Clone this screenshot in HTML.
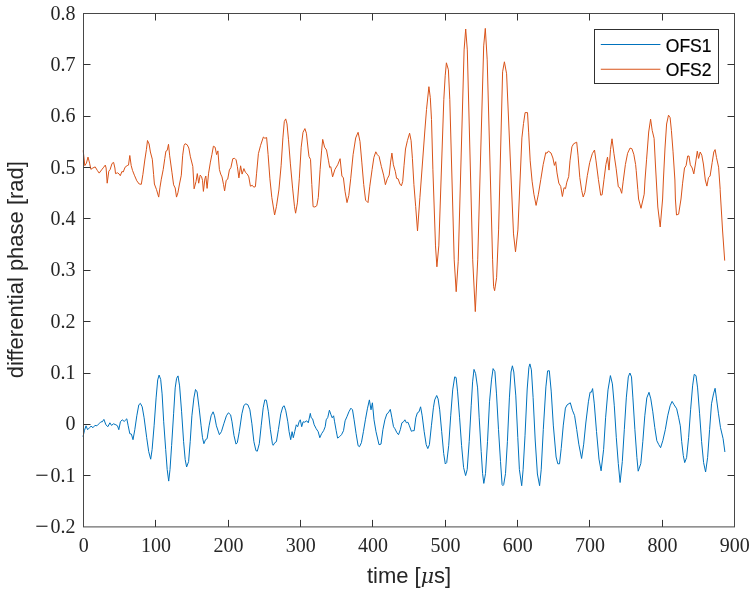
<!DOCTYPE html>
<html><head><meta charset="utf-8"><title>differential phase</title>
<style>
html,body{margin:0;padding:0;background:#fff;}
body{width:753px;height:594px;overflow:hidden;}
svg{display:block;}
.tk{font-family:"Liberation Serif",serif;font-size:20px;fill:#262626;}
.lb{font-family:"Liberation Sans",sans-serif;font-size:22px;fill:#262626;}
.lg{font-family:"Liberation Sans",sans-serif;font-size:17.5px;fill:#000;stroke:#000;stroke-width:0.2px;}
</style></head><body>
<svg width="753" height="594" viewBox="0 0 753 594">
<rect width="753" height="594" fill="#fff"/>
<path d="M83.0,436.7 L84.4,430.7 L86.0,425.8 L87.6,429.7 L89.6,427.7 L91.0,426.1 L93.0,427.7 L94.9,425.4 L96.9,425.8 L98.9,423.8 L100.9,421.8 L102.3,421.8 L103.9,419.4 L105.9,424.8 L107.9,426.7 L109.9,422.8 L111.5,425.4 L113.5,423.8 L115.9,424.8 L117.5,425.8 L118.8,429.7 L120.4,421.8 L122.2,419.8 L124.2,421.4 L126.8,418.8 L128.2,425.8 L129.8,433.7 L131.4,434.1 L133.0,439.7 L134.8,429.7 L136.8,415.8 L138.8,404.8 L140.4,403.4 L142.2,406.8 L144.1,417.8 L146.7,437.7 L148.7,451.6 L150.7,459.2 L152.1,449.6 L154.1,425.8 L156.1,397.9 L157.7,379.9 L159.1,375.1 L160.7,379.5 L162.1,393.9 L163.7,421.8 L165.7,449.6 L167.2,469.6 L168.7,481.1 L170.0,469.6 L171.6,445.7 L173.6,413.8 L175.2,387.9 L176.6,378.3 L178.0,375.9 L179.6,385.9 L181.6,411.8 L183.6,441.7 L185.2,459.6 L186.6,467.0 L188.6,461.6 L190.2,441.7 L191.9,415.8 L193.9,397.9 L195.5,389.5 L197.1,391.9 L199.1,407.8 L201.1,425.8 L202.5,437.7 L203.9,443.7 L205.5,439.7 L207.1,438.7 L209.1,425.8 L211.1,415.8 L213.1,411.8 L214.5,415.8 L216.4,425.8 L219.4,434.7 L221.4,431.7 L223.8,423.8 L226.4,415.8 L228.4,412.8 L230.6,414.8 L232.0,421.8 L234.0,435.7 L236.0,444.1 L237.3,442.7 L239.3,431.7 L241.9,413.8 L243.9,405.4 L245.9,403.8 L247.9,404.8 L249.9,409.8 L251.9,423.8 L253.9,441.7 L255.9,450.6 L257.3,451.2 L259.3,443.7 L261.2,425.8 L263.2,407.8 L264.8,399.9 L266.4,400.2 L268.4,411.8 L270.4,429.7 L272.4,443.7 L273.2,445.3 L274.8,442.7 L276.4,441.7 L278.4,429.7 L280.8,413.8 L282.8,406.8 L284.2,405.8 L285.8,410.8 L287.8,421.8 L289.1,431.7 L290.7,439.7 L292.1,431.7 L293.3,437.7 L294.7,431.7 L296.3,424.8 L297.7,426.7 L299.1,421.8 L300.3,419.8 L301.7,426.7 L303.1,421.8 L304.7,422.2 L306.7,420.8 L308.3,422.8 L310.3,413.4 L311.2,417.8 L312.6,418.8 L314.2,424.8 L316.2,428.7 L318.2,431.7 L319.8,437.7 L321.6,433.7 L323.6,430.7 L325.2,426.7 L326.2,419.8 L327.8,417.4 L329.4,410.2 L331.0,414.8 L332.2,417.8 L333.6,415.8 L334.6,421.8 L336.2,430.7 L337.6,438.1 L339.5,436.7 L341.5,434.7 L343.5,430.7 L345.1,420.8 L346.9,416.8 L348.9,411.8 L350.9,408.2 L352.5,409.8 L354.1,419.8 L356.1,433.7 L358.1,445.7 L359.5,446.7 L361.4,442.7 L363.4,431.7 L365.4,419.8 L367.4,408.8 L369.4,399.9 L371.0,409.8 L372.4,402.8 L374.0,419.8 L376.0,431.7 L379.0,444.7 L381.0,444.1 L382.9,429.7 L384.9,419.8 L386.9,413.8 L388.3,412.8 L390.3,409.4 L391.9,417.8 L393.5,426.7 L394.9,428.7 L396.9,432.7 L398.5,434.7 L400.3,429.7 L401.9,422.8 L403.5,421.8 L404.9,419.8 L406.4,422.8 L407.9,422.2 L409.4,425.8 L411.4,431.3 L412.8,430.7 L414.2,430.7 L415.8,417.8 L417.4,412.8 L419.0,411.8 L420.6,406.8 L422.2,415.8 L424.2,431.7 L426.2,444.7 L427.8,448.6 L429.4,444.7 L431.4,425.8 L433.4,407.8 L434.7,399.9 L436.7,395.5 L438.1,398.9 L439.7,409.8 L441.7,431.7 L443.7,453.6 L445.3,464.0 L446.7,462.6 L448.7,445.7 L450.7,415.8 L452.7,389.9 L454.7,376.9 L456.1,377.5 L457.6,391.9 L459.6,417.8 L461.6,445.7 L463.6,467.6 L465.6,475.6 L467.2,469.6 L469.2,441.7 L471.2,405.8 L472.6,381.9 L474.0,369.4 L475.6,373.6 L477.6,387.9 L479.2,417.8 L481.2,451.6 L482.6,473.6 L483.8,483.4 L485.5,473.6 L487.5,441.7 L489.5,401.8 L491.5,379.9 L493.1,368.6 L494.9,371.6 L496.5,393.9 L498.5,429.7 L500.5,461.6 L502.1,484.6 L502.9,485.6 L503.7,484.6 L505.5,473.6 L507.4,441.7 L509.4,397.9 L511.0,372.0 L512.4,365.8 L513.8,372.0 L515.8,395.9 L517.8,437.7 L519.4,469.6 L521.7,485.7 L523.1,469.8 L525.0,435.8 L527.2,389.0 L528.9,367.3 L529.9,363.9 L531.4,369.9 L533.1,397.5 L535.2,440.0 L537.4,474.0 L539.6,485.7 L541.2,469.8 L543.3,429.4 L545.9,386.9 L547.6,370.9 L549.3,370.7 L551.2,391.1 L553.3,425.1 L556.1,457.0 L557.8,463.8 L559.5,463.8 L561.2,448.5 L563.3,425.1 L565.4,408.1 L567.1,404.9 L570.3,402.8 L572.4,410.2 L574.6,415.6 L576.7,429.4 L578.8,444.2 L581.6,458.5 L583.7,444.2 L585.8,423.0 L588.4,401.8 L590.1,392.2 L591.4,392.2 L592.6,388.6 L594.3,403.9 L596.5,431.5 L599.0,459.1 L601.1,470.8 L603.6,449.6 L605.6,417.8 L608.0,389.9 L610.4,375.6 L612.4,383.9 L614.3,405.8 L616.3,437.7 L618.3,463.6 L620.1,482.5 L622.3,461.6 L624.3,429.7 L626.3,397.9 L628.3,376.9 L629.9,373.0 L631.5,376.9 L632.9,397.9 L634.9,429.7 L636.9,457.6 L638.2,471.2 L640.8,463.6 L642.8,441.7 L644.8,415.8 L646.8,397.9 L649.0,392.3 L650.8,398.9 L652.8,411.8 L654.8,427.7 L656.8,440.7 L658.8,444.7 L660.6,447.7 L662.8,440.7 L665.3,429.7 L667.7,415.8 L670.1,405.8 L672.1,401.4 L674.1,404.8 L676.7,408.8 L678.7,417.8 L680.3,425.8 L681.7,441.7 L683.3,455.6 L684.7,462.6 L686.6,457.6 L688.6,437.7 L690.6,409.8 L692.6,385.9 L694.2,374.4 L696.0,375.6 L697.6,387.9 L699.6,413.8 L701.6,441.7 L703.6,462.6 L705.6,472.0 L707.6,457.6 L709.6,429.7 L711.5,403.8 L713.5,393.9 L715.1,388.3 L716.5,398.9 L718.5,413.8 L720.5,427.7 L723.1,438.7 L724.9,452.0" fill="none" stroke="#0072BD" stroke-width="1" stroke-linejoin="round"/>
<path d="M83.2,150.4 L84.8,165.6 L86.4,163.2 L88.0,157.1 L89.6,163.2 L90.9,169.3 L92.8,168.0 L95.2,166.9 L97.3,170.4 L99.2,173.1 L101.6,169.9 L103.7,167.2 L105.3,165.1 L106.1,168.0 L107.2,183.2 L108.8,171.2 L110.1,169.6 L112.0,163.5 L113.6,162.4 L114.9,168.0 L115.5,173.6 L117.6,172.8 L119.2,174.1 L120.3,175.7 L121.9,171.5 L123.2,172.0 L125.1,167.2 L127.2,165.6 L128.5,165.1 L129.8,155.5 L131.2,165.6 L132.5,170.4 L134.4,175.2 L136.8,180.8 L139.2,184.0 L141.3,184.3 L142.9,174.4 L144.8,160.0 L146.4,149.6 L147.5,140.5 L149.1,144.0 L150.4,152.0 L152.3,159.2 L153.6,174.4 L154.4,184.0 L156.5,189.6 L158.7,197.1 L160.0,187.2 L161.3,179.2 L163.2,169.6 L164.8,158.4 L165.9,151.2 L167.2,150.4 L168.5,144.3 L169.6,155.2 L172.0,172.8 L173.6,184.8 L175.2,188.0 L176.5,197.1 L177.9,192.8 L179.5,184.0 L181.3,175.2 L182.7,155.2 L184.0,145.6 L185.1,143.7 L187.2,144.8 L188.8,148.0 L190.4,156.8 L192.8,166.4 L194.1,188.8 L196.0,181.6 L197.3,173.6 L198.7,183.2 L200.2,175.1 L201.5,176.6 L202.5,180.3 L203.4,191.4 L204.9,178.8 L205.8,176.0 L207.1,188.4 L208.6,173.2 L210.4,162.1 L211.9,154.6 L213.4,146.2 L215.1,147.2 L216.6,154.6 L217.9,150.9 L219.4,169.5 L220.7,174.1 L222.0,176.9 L223.5,184.4 L224.6,190.9 L226.2,180.3 L227.7,179.2 L229.4,169.9 L230.9,167.6 L232.8,158.7 L234.6,158.3 L236.1,159.8 L237.4,166.7 L238.9,177.9 L240.6,165.8 L242.1,174.1 L243.9,168.6 L245.4,172.3 L247.3,174.1 L248.8,176.9 L250.4,186.2 L252.3,185.3 L253.8,187.2 L255.4,186.6 L256.6,173.2 L258.4,153.7 L260.6,145.3 L263.4,137.0 L264.9,138.3 L266.6,137.5 L268.1,154.6 L269.9,178.8 L271.8,197.4 L274.6,215.0 L276.4,206.7 L278.9,189.9 L281.1,165.8 L282.9,137.9 L284.3,121.5 L285.7,118.9 L287.0,123.9 L288.5,139.8 L290.4,163.9 L292.6,188.1 L294.5,206.7 L295.6,213.2 L297.4,202.9 L299.3,178.8 L301.2,147.2 L303.0,132.3 L304.9,128.6 L306.4,133.2 L308.1,149.0 L309.0,156.5 L310.5,159.3 L311.8,184.4 L313.1,206.7 L314.9,207.0 L316.8,205.7 L318.3,197.4 L320.1,169.5 L321.6,150.9 L322.7,139.4 L324.6,147.2 L326.5,150.0 L328.4,160.2 L329.7,167.6 L330.8,166.7 L332.6,176.9 L334.9,169.5 L337.7,164.8 L340.1,158.7 L341.9,176.0 L343.4,177.9 L345.1,191.8 L347.0,202.6 L348.8,195.5 L350.7,178.8 L353.1,154.6 L355.7,137.9 L358.1,132.3 L360.0,141.6 L361.8,162.1 L363.7,184.4 L365.6,200.2 L368.0,202.6 L369.8,186.2 L372.1,169.5 L373.9,157.4 L375.8,151.8 L377.3,154.6 L379.1,156.5 L381.4,166.7 L383.6,175.1 L385.4,184.7 L387.3,178.8 L389.2,175.1 L390.6,162.1 L391.9,153.1 L393.4,164.8 L395.3,171.3 L396.6,178.4 L398.1,178.8 L399.9,184.0 L401.4,185.8 L402.7,181.6 L404.0,165.8 L405.5,149.0 L407.4,140.7 L409.6,133.2 L411.1,140.7 L412.4,158.3 L413.9,184.4 L415.7,206.7 L417.5,230.9 L419.9,197.7 L424.9,130.0 L426.5,109.6 L428.9,86.7 L430.3,97.7 L431.5,119.6 L432.9,169.8 L435.5,245.9 L436.9,266.8 L438.8,245.9 L443.8,99.7 L445.2,75.8 L446.4,62.8 L448.4,69.8 L449.8,99.7 L454.2,259.8 L456.2,291.7 L458.2,261.8 L464.1,49.9 L465.7,29.0 L467.3,49.9 L472.7,259.8 L475.3,311.6 L477.7,259.8 L483.7,45.9 L485.3,28.4 L487.2,59.8 L492.6,259.8 L493.6,286.7 L494.6,290.7 L496.6,277.7 L498.6,229.9 L502.6,71.8 L504.4,61.8 L506.6,73.8 L513.5,233.9 L515.5,251.8 L517.9,229.9 L521.9,137.9 L523.5,123.6 L525.1,112.6 L527.5,112.6 L528.7,132.9 L530.2,160.8 L532.1,181.2 L533.9,194.2 L536.1,205.4 L538.4,194.2 L540.8,179.4 L543.2,164.5 L545.8,152.4 L546.9,153.3 L548.4,151.1 L551.0,153.0 L552.9,158.0 L554.4,165.4 L555.7,161.7 L557.0,172.9 L558.8,183.1 L560.7,186.4 L562.4,196.5 L564.0,187.7 L565.5,188.7 L566.8,182.2 L568.7,176.6 L570.0,160.8 L571.9,146.8 L573.7,143.7 L576.7,142.2 L578.0,155.2 L579.8,177.5 L581.7,190.5 L583.2,197.0 L584.9,192.4 L587.3,175.7 L589.7,162.6 L592.3,153.7 L594.5,150.0 L596.0,160.8 L598.4,179.4 L600.7,195.2 L602.1,194.8 L604.0,179.4 L605.9,164.5 L607.5,157.1 L609.0,170.1 L610.5,149.6 L612.0,138.8 L613.9,153.3 L616.1,168.2 L618.3,186.8 L619.8,187.7 L621.7,193.3 L623.2,181.2 L625.4,164.5 L627.6,153.3 L630.0,148.1 L631.9,148.7 L633.8,154.3 L635.6,164.5 L636.2,170.4 L637.8,189.6 L638.6,199.0 L641.0,208.3 L644.2,194.2 L645.0,180.0 L646.6,159.2 L648.7,132.0 L650.6,119.2 L652.2,130.4 L654.1,138.4 L655.4,164.0 L657.8,207.0 L660.2,227.0 L662.6,199.0 L663.4,180.0 L665.0,148.0 L666.6,124.0 L668.5,115.2 L670.1,117.6 L671.4,130.4 L673.0,151.2 L674.9,180.0 L675.4,199.0 L676.5,215.0 L678.6,214.2 L681.0,199.0 L682.6,183.2 L684.5,168.0 L686.1,165.6 L687.7,156.0 L689.0,156.0 L690.3,164.8 L692.2,168.0 L693.8,173.9 L695.4,164.0 L697.3,151.2 L698.6,158.4 L700.2,152.0 L701.8,155.2 L703.4,164.0 L705.3,180.0 L706.9,186.1 L708.5,177.6 L710.1,176.0 L712.2,162.4 L713.8,152.0 L715.1,149.6 L716.5,157.6 L718.6,167.2 L720.2,189.6 L720.2,191.0 L722.6,231.0 L724.7,260.6" fill="none" stroke="#D95319" stroke-width="1" stroke-linejoin="round"/>
<rect x="83.5" y="13.5" width="651.0" height="513.4" fill="none" stroke="#484848" stroke-width="1"/>
<path d="M155.5,526.9v-7M155.5,13.5v7M228.5,526.9v-7M228.5,13.5v7M300.5,526.9v-7M300.5,13.5v7M372.5,526.9v-7M372.5,13.5v7M445.5,526.9v-7M445.5,13.5v7M517.5,526.9v-7M517.5,13.5v7M589.5,526.9v-7M589.5,13.5v7M662.5,526.9v-7M662.5,13.5v7M83.5,64.5h7M734.5,64.5h-7M83.5,116.5h7M734.5,116.5h-7M83.5,167.5h7M734.5,167.5h-7M83.5,218.5h7M734.5,218.5h-7M83.5,270.5h7M734.5,270.5h-7M83.5,321.5h7M734.5,321.5h-7M83.5,373.5h7M734.5,373.5h-7M83.5,424.5h7M734.5,424.5h-7M83.5,475.5h7M734.5,475.5h-7" stroke="#333" stroke-width="1" fill="none"/>
<text class="tk" x="83.8" y="552.3" text-anchor="middle">0</text>
<text class="tk" x="156.1" y="552.3" text-anchor="middle">100</text>
<text class="tk" x="228.5" y="552.3" text-anchor="middle">200</text>
<text class="tk" x="300.8" y="552.3" text-anchor="middle">300</text>
<text class="tk" x="373.1" y="552.3" text-anchor="middle">400</text>
<text class="tk" x="445.5" y="552.3" text-anchor="middle">500</text>
<text class="tk" x="517.8" y="552.3" text-anchor="middle">600</text>
<text class="tk" x="590.1" y="552.3" text-anchor="middle">700</text>
<text class="tk" x="662.5" y="552.3" text-anchor="middle">800</text>
<text class="tk" x="734.8" y="552.3" text-anchor="middle">900</text>
<text class="tk" x="75.4" y="19.5" text-anchor="end">0.8</text>
<text class="tk" x="75.4" y="70.8" text-anchor="end">0.7</text>
<text class="tk" x="75.4" y="122.2" text-anchor="end">0.6</text>
<text class="tk" x="75.4" y="173.5" text-anchor="end">0.5</text>
<text class="tk" x="75.4" y="224.9" text-anchor="end">0.4</text>
<text class="tk" x="75.4" y="276.2" text-anchor="end">0.3</text>
<text class="tk" x="75.4" y="327.5" text-anchor="end">0.2</text>
<text class="tk" x="75.4" y="378.9" text-anchor="end">0.1</text>
<text class="tk" x="75.4" y="430.2" text-anchor="end">0</text>
<text class="tk" x="75.4" y="481.6" text-anchor="end"><tspan font-size="24px" dy="1">−</tspan><tspan dx="1.5" dy="-1">0.1</tspan></text>
<text class="tk" x="75.4" y="532.9" text-anchor="end"><tspan font-size="24px" dy="1">−</tspan><tspan dx="1.5" dy="-1">0.2</tspan></text>
<text class="lb" x="409" y="583.2" text-anchor="middle">time [<tspan font-family="DejaVu Serif,serif" font-style="italic" font-size="20.5px">μ</tspan>s]</text>
<text class="lb" transform="translate(23.4,269.7) rotate(-90)" text-anchor="middle">differential phase [rad]</text>
<rect x="594.5" y="29.5" width="124" height="54" fill="#fff" stroke="#303030" stroke-width="1"/>
<path d="M600.8,44.5H660.4" stroke="#0072BD" stroke-width="1.1"/>
<path d="M600.8,69.3H660.4" stroke="#D95319" stroke-width="1.1"/>
<text class="lg" x="665.8" y="51.6">OFS1</text>
<text class="lg" x="665.8" y="76">OFS2</text>
</svg></body></html>
